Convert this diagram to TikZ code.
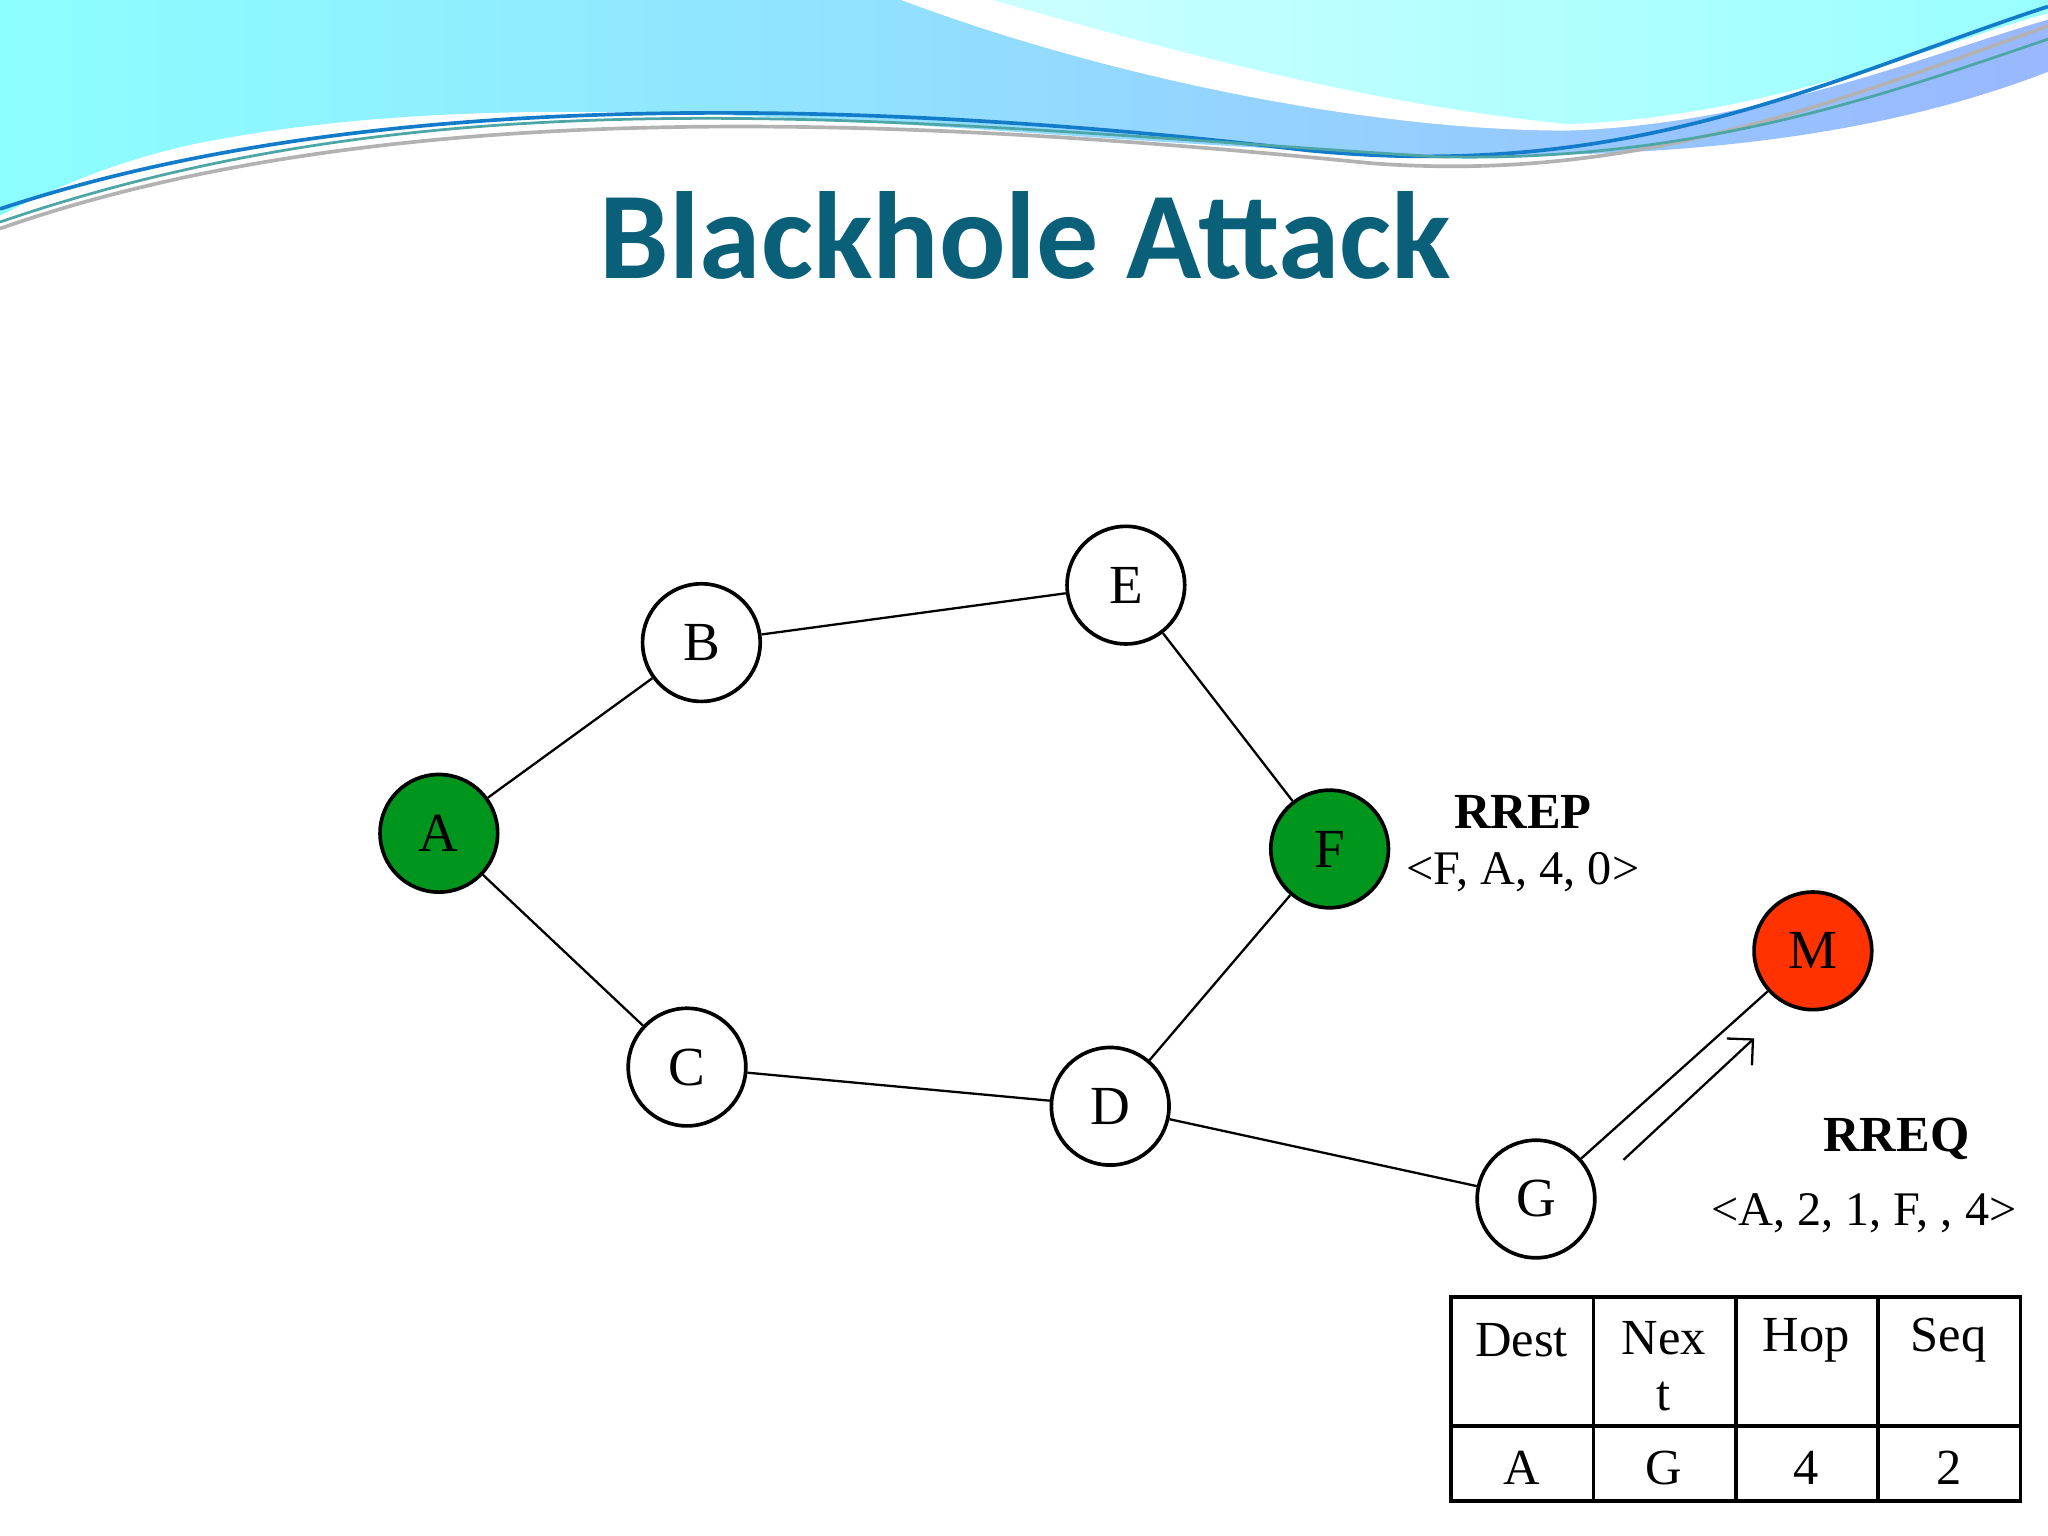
\documentclass[tikz,border=0pt]{standalone}
\usepackage{fontspec}
\setmainfont{Liberation Serif}
\newfontfamily\titlefont{Carlito}
\usetikzlibrary{arrows.meta}
\definecolor{titleteal}{RGB}{10,96,120}
\definecolor{nodegreen}{RGB}{0,150,30}
\definecolor{nodered}{RGB}{255,50,0}
\begin{document}
\begin{tikzpicture}[x=0.01cm,y=-0.01cm,
  nd/.style={circle,draw=black,thick,minimum size=0.9cm,inner sep=0pt,font=\fontsize{12}{13}\selectfont},
  ed/.style={draw=black,line width=0.5pt},
  lbl/.style={font=\fontsize{10.5}{12}\selectfont},
  cell/.style={font=\fontsize{11}{13}\selectfont,align=center}]
\useasboundingbox (0,0) rectangle (1568,1176);
% header wave
\shade[left color=cyan!45,right color=cyan!30!blue!40] (0,0) -- (1568,0) -- (1568,55)
  .. controls (1400,120) and (1200,125) .. (1000,115)
  .. controls (700,100) and (400,60) .. (150,110)
  .. controls (80,125) and (30,150) .. (0,165) -- cycle;
\fill[white] (690,0) .. controls (850,60) and (1050,100) .. (1200,100)
  .. controls (1350,95) and (1480,40) .. (1568,15) -- (1568,0) -- cycle;
\shade[left color=cyan!20,right color=cyan!40] (760,0) .. controls (900,40) and (1050,80) .. (1200,95)
  .. controls (1350,90) and (1480,35) .. (1568,10) -- (1568,0) -- cycle;
\draw[cyan!60!blue,line width=0.8pt] (0,160) .. controls (300,60) and (700,80) .. (1000,115) .. controls (1250,140) and (1400,60) .. (1568,5);
\draw[gray!60,line width=0.8pt] (0,175) .. controls (300,70) and (700,90) .. (1050,125) .. controls (1250,140) and (1400,80) .. (1568,20);
\draw[teal!70,line width=0.6pt] (0,170) .. controls (350,50) and (700,95) .. (1100,120) .. controls (1300,125) and (1450,70) .. (1568,30);
% title
\node (title) at (785,180) {\titlefont\bfseries\fontsize{27}{30}\selectfont\color{titleteal}Blackhole Attack};
% nodes
\node[nd,fill=nodegreen] (A) at (336,638) {A};
\node[nd,fill=white] (B) at (537,492) {B};
\node[nd,fill=white] (E) at (862,448) {E};
\node[nd,fill=nodegreen] (F) at (1018,650) {F};
\node[nd,fill=white] (C) at (526,817) {C};
\node[nd,fill=white] (D) at (850,847) {D};
\node[nd,fill=white] (G) at (1176,918) {G};
\node[nd,fill=nodered] (M) at (1388,728) {M};
\draw[ed] (A) -- (B);
\draw[ed] (B) -- (E);
\draw[ed] (E) -- (F);
\draw[ed] (F) -- (D);
\draw[ed] (A) -- (C);
\draw[ed] (C) -- (D);
\draw[ed] (D) -- (G);
\draw[ed] (G) -- (M);
\coordinate (s) at (1243,888);
\coordinate (t) at (1343,795);
\draw[ed,-{Straight Barb[length=4pt,width=8pt]}] (s) -- (t);
% labels
\node[lbl,font=\bfseries\fontsize{11}{13}\selectfont] (rrep) at (1166,622) {RREP};
\node[lbl] (rrepv) at (1166,668) {<F, A, 4, 0>};
\node[lbl,font=\bfseries\fontsize{11}{13}\selectfont] (rreq) at (1452,872) {RREQ};
\node[lbl] (rreqv) at (1427,929) {<A, 2, 1, F, , 4>};
% table
\draw[black,line width=0.8pt] (1111,993) rectangle (1547,1149);
\draw[black,line width=0.8pt] (1111,1092) -- (1547,1092);
\foreach \x in {1220,1329,1438} \draw[black,line width=0.8pt] (\x,993) -- (\x,1149);
\node[cell] (h1) at (1165,1026) {Dest};
\node[cell,align=center] (h2) at (1274,1046) {Nex\\[-1pt]t};
\node[cell] (h3) at (1383,1026) {Hop};
\node[cell] (h4) at (1492,1026) {Seq};
\node[cell] (c1) at (1165,1124) {A};
\node[cell] (c2) at (1274,1124) {G};
\node[cell] (c3) at (1383,1124) {4};
\node[cell] (c4) at (1492,1124) {2};
\end{tikzpicture}
\end{document}
